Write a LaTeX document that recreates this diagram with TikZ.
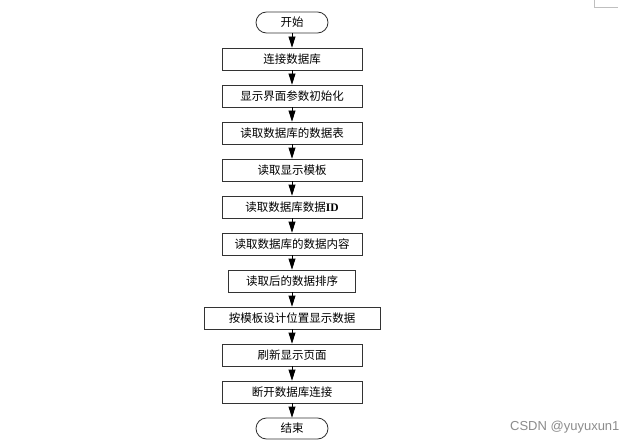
\documentclass[tikz,border=0pt]{standalone}
\usepackage{fontspec}
\usepackage{tikz}
\usetikzlibrary{positioning,arrows.meta}
\setmainfont{Noto Sans CJK SC}
\newfontfamily\latinbold{Liberation Serif}
\newfontfamily\marksans{Liberation Sans}

\begin{document}
\begin{tikzpicture}[x=1pt,y=-1pt,node distance=14.2pt,
  proc/.style={rectangle,draw=black!80,line width=0.8pt,minimum width=140pt,minimum height=22pt,inner sep=0pt,font=\fontsize{11.5}{13}\selectfont},
  term/.style={rectangle,rounded corners=10.5pt,draw=black!80,line width=0.8pt,minimum width=72pt,minimum height=21pt,inner sep=0pt,font=\fontsize{11.5}{13}\selectfont},
  flow/.style={draw=black,line width=0.8pt,-{Triangle[width=7pt,length=11pt]}}]
\useasboundingbox[fill=white] (0,0) rectangle (638,444);
\node [term] (start) at (292,22.5) {开始};
\node [proc,below=of start] (conn) {连接数据库};
\node [proc,below=of conn] (init) {显示界面参数初始化};
\node [proc,below=of init] (table) {读取数据库的数据表};
\node [proc,below=of table] (tmpl) {读取显示模板};
\node [proc,below=of tmpl] (rid) {读取数据库数据{\latinbold\bfseries ID}};
\node [proc,below=of rid] (content) {读取数据库的数据内容};
\node [proc,below=of content,minimum width=127pt] (sort) {读取后的数据排序};
\node [proc,below=of sort,minimum width=176pt] (show) {按模板设计位置显示数据};
\node [proc,below=of show] (refresh) {刷新显示页面};
\node [proc,below=of refresh] (disc) {断开数据库连接};
\node [term,below=of disc] (stop) {结束};
% connectors
\foreach \a/\b in {start/conn,conn/init,init/table,table/tmpl,tmpl/rid,rid/content,content/sort,sort/show,show/refresh,refresh/disc,disc/stop}
  \draw [flow] (\a) -- (\b);
% watermark
\node [font=\fontsize{13}{15}\selectfont\marksans,text=black!45,anchor=east] (mark) at (623,427) {CSDN @yuyuxun1};
\draw [black!25,line width=0.8pt] (594,0) -- (594,7) -- (618,7);
\end{tikzpicture}
\end{document}
